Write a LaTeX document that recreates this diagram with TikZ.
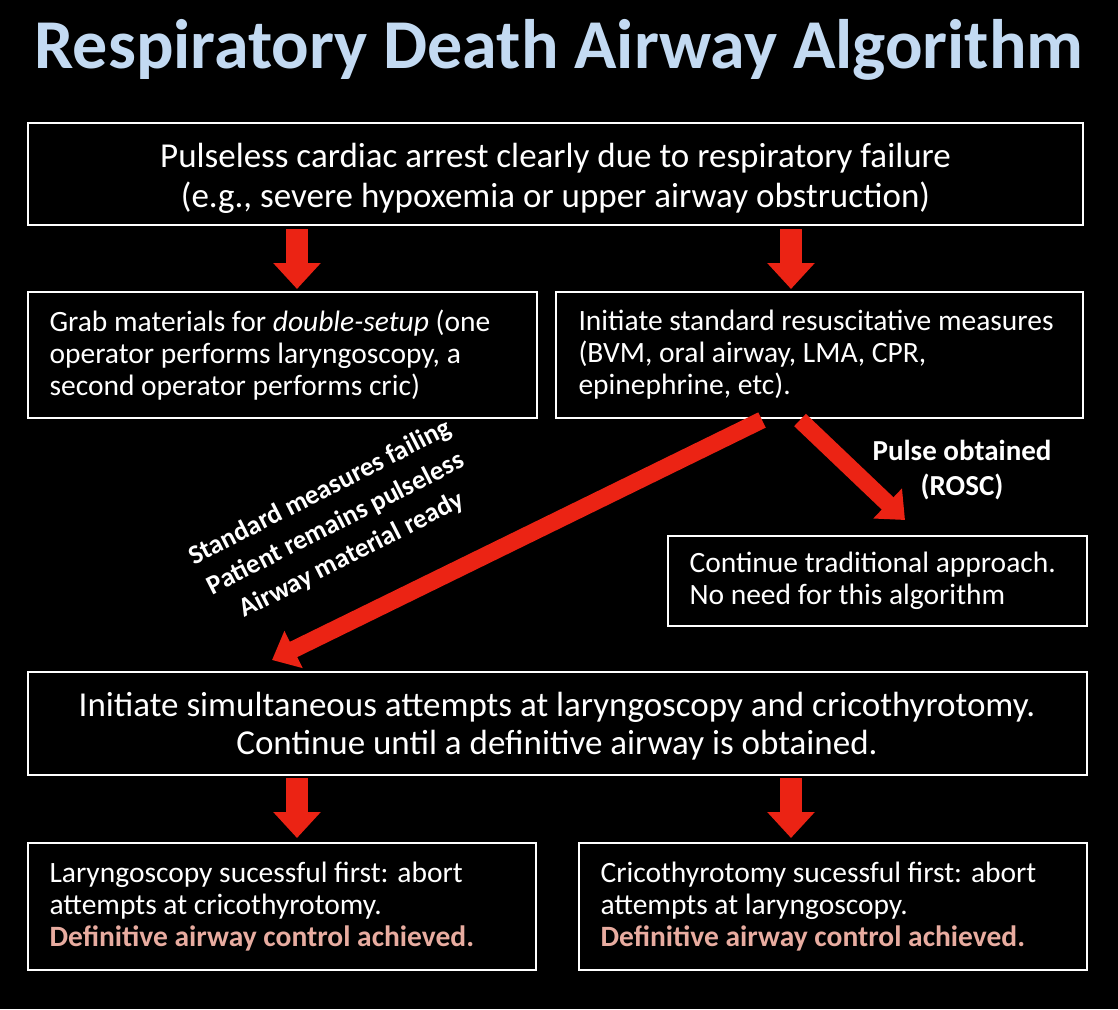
\documentclass[tikz,border=0pt]{standalone}
\usepackage{fontspec}
\setmainfont{Carlito}
\usetikzlibrary{arrows.meta}
\definecolor{ttl}{RGB}{195,218,242}
\definecolor{arr}{RGB}{235,35,20}
\definecolor{pk}{RGB}{232,172,160}
\begin{document}
\begin{tikzpicture}[x=1pt,y=-1pt,
  box/.style={draw=white,line width=1.5pt,fill=black,text=white,inner sep=0pt},
  bigarrow/.style={draw=arr,line width=22pt,-{Triangle[width=46pt,length=26pt]}},
  diag/.style={draw=arr,line width=17pt,-{Triangle[width=40pt,length=24pt]}},
  txt/.style={font=\fontsize{29.5}{32}\selectfont,align=left,text=white}]
\fill[black] (0,0) rectangle (1118,1009);
\useasboundingbox (0,0) rectangle (1118,1009);
\node[text=ttl,font=\bfseries\fontsize{70}{76}\selectfont] (title) at (559,50) {Respiratory Death Airway Algorithm};
\draw[box] (28,123) rectangle (1083,225);
\node[text=white,align=center,font=\fontsize{35}{40}\selectfont] (b1) at (555.5,178) {Pulseless cardiac arrest clearly due to respiratory failure\\(e.g., severe hypoxemia or upper airway obstruction)};
\draw[box] (28,292) rectangle (537,418);
\node[txt,anchor=west] (b2) at (46,355) {Grab materials for \textit{double-setup} (one\\operator performs laryngoscopy, a\\second operator performs cric)};
\draw[box] (556,292) rectangle (1083,418);
\node[txt,anchor=west] (b3) at (575,355) {Initiate standard resuscitative measures\\(BVM, oral airway, LMA, CPR,\\epinephrine, etc).};
\draw[box] (668,536) rectangle (1087,626);
\node[txt,anchor=west] (b4) at (686,581) {Continue traditional approach.\\No need for this algorithm};
\draw[box] (28,672) rectangle (1087,775);
\node[text=white,align=center,font=\fontsize{35}{38}\selectfont] (b5) at (557,726) {Initiate simultaneous attempts at laryngoscopy and cricothyrotomy.\\Continue until a definitive airway is obtained.};
\draw[box] (28,843) rectangle (536,970);
\node[txt,anchor=west] (b6) at (46,907) {Laryngoscopy sucessful first: abort\\attempts at cricothyrotomy.\\\textcolor{pk}{\bfseries Definitive airway control achieved.}};
\draw[box] (579,843) rectangle (1087,970);
\node[txt,anchor=west] (b7) at (597,907) {Cricothyrotomy sucessful first: abort\\attempts at laryngoscopy.\\\textcolor{pk}{\bfseries Definitive airway control achieved.}};
\coordinate (a1s) at (297,229); \coordinate (a1e) at (297,289);
\coordinate (a2s) at (791,229); \coordinate (a2e) at (791,289);
\coordinate (a3s) at (297,778); \coordinate (a3e) at (297,838);
\coordinate (a4s) at (791,778); \coordinate (a4e) at (791,838);
\draw[bigarrow] (a1s) -- (a1e);
\draw[bigarrow] (a2s) -- (a2e);
\draw[bigarrow] (a3s) -- (a3e);
\draw[bigarrow] (a4s) -- (a4e);
\coordinate (d1s) at (762,420); \coordinate (d1e) at (272,660);
\coordinate (d2s) at (800,420); \coordinate (d2e) at (905,520);
\draw[diag] (d1s) -- (d1e);
\draw[diag] (d2s) -- (d2e);
\node[text=white,align=center,rotate=27,font=\bfseries\fontsize{27}{35}\selectfont] (lbl1) at (336,524) {Standard measures failing\\Patient remains pulseless\\Airway material ready};
\node[text=white,align=center,font=\bfseries\fontsize{29}{35}\selectfont] (lbl2) at (962,470) {Pulse obtained\\(ROSC)};
\end{tikzpicture}
\end{document}
